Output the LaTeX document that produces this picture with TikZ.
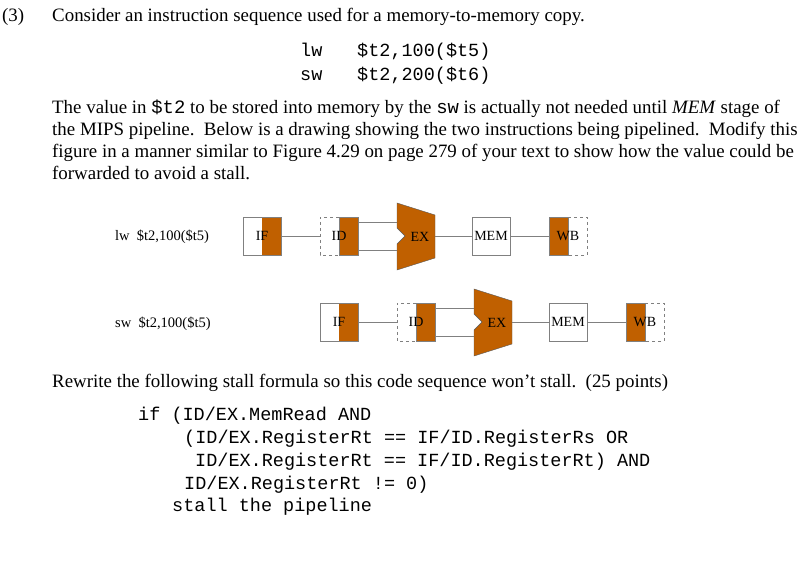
\documentclass[tikz,border=0pt]{standalone}
\usepackage{fontspec}
\setmainfont{Liberation Serif}
\setmonofont{Liberation Mono}
\usetikzlibrary{positioning}
\definecolor{rust}{RGB}{192,96,0}

\begin{document}
\begin{tikzpicture}[x=1pt,y=-1pt,
txt/.style={anchor=base west,inner sep=0,font=\fontsize{18.9}{20}\selectfont},
code/.style={anchor=base west,inner sep=0,font=\fontsize{18.5}{20}\selectfont\ttfamily},
lbl/.style={anchor=base west,inner sep=0,font=\fontsize{14.5}{16}\selectfont},
stage/.style={
    rectangle,
    draw=gray,
    minimum width=38pt,
    minimum height=38pt,
    inner sep=0,
    font=\fontsize{14}{15}\selectfont},
wire/.style={draw=gray,line width=0.8pt}
]
\useasboundingbox (0,0) rectangle (798,585);
% heading and text
\node(num) [txt] at (2,22) {(3)};
\node(q1) [txt] at (52,22) {Consider an instruction sequence used for a memory-to-memory copy.};
\node(c1a) [code] at (300,57) {lw};
\node(c1b) [code] at (357,57) {\$t2,100(\$t5)};
\node(c2a) [code] at (300,81) {sw};
\node(c2b) [code] at (357,81) {\$t2,200(\$t6)};
\node(p1) [txt] at (52,114) {The value in \texttt{\$t2} to be stored into memory by the \texttt{sw} is actually not needed until \textit{MEM} stage of};
\node(p2) [txt] at (52,136) {the MIPS pipeline.\ \ Below is a drawing showing the two instructions being pipelined.\ \ Modify this};
\node(p3) [txt] at (52,158) {figure in a manner similar to Figure 4.29 on page 279 of your text to show how the value could be};
\node(p4) [txt] at (52,180) {forwarded to avoid a stall.};
\node(lw) [lbl] at (115,241) {lw \ \$t2,100(\$t5)};
\node(sw) [lbl] at (115,327) {sw \ \$t2,100(\$t5)};
% pipelines
\foreach \r/\dx/\dy in {1/0/0,2/77/86}{
\begin{scope}[shift={(\dx,\dy)}]
\fill[rust] (262,217) rectangle (281,255);
\node(if\r) [stage] at (262,236) {IF};
\fill[rust] (339,217) rectangle (358,255);
\draw[gray,dashed] (339,217) -| (320,255) -- (339,255);
\draw[gray] (339,217) rectangle (358,255);
\node(id\r) [inner sep=0,minimum width=38pt,minimum height=38pt,font=\fontsize{14}{15}\selectfont] at (339,236) {ID};
\fill[rust,draw=gray!70!black] (397,203) -- (435,215) -- (435,258) -- (397,270) -- (397,244) -- (405,236) -- (397,228) -- cycle;
\node(ex\r) [inner sep=0,font=\fontsize{14}{15}\selectfont] at (420,237) {EX};
\coordinate(exa\r) at (397,222);
\coordinate(exb\r) at (397,250);
\coordinate(exo\r) at (435,236);
\node(mem\r) [stage] at (491,236) {MEM};
\fill[rust] (549,217) rectangle (568,255);
\draw[gray,dashed] (568,217) -| (587,255) -- (568,255);
\draw[gray] (549,217) rectangle (568,255);
\node(wb\r) [inner sep=0,minimum width=38pt,minimum height=38pt,font=\fontsize{14}{15}\selectfont] at (568,236) {WB};
\draw[wire] (if\r.east) -- (id\r.west);
\draw[wire] (id\r.east |- exa\r) -- (exa\r);
\draw[wire] (id\r.east |- exb\r) -- (exb\r);
\draw[wire] (exo\r) -- (mem\r.west);
\draw[wire] (mem\r.east) -- (wb\r.west);
\end{scope}}
% formula
\node(r1) [txt] at (52,387) {Rewrite the following stall formula so this code sequence won't stall.\ \ (25 points)};
\node(f1) [code] at (138,420) {if (ID/EX.MemRead AND};
\node(f2) [code] at (184,443) {(ID/EX.RegisterRt == IF/ID.RegisterRs OR};
\node(f3) [code] at (195,466) {ID/EX.RegisterRt == IF/ID.RegisterRt) AND};
\node(f4) [code] at (184,489) {ID/EX.RegisterRt != 0)};
\node(f5) [code] at (172,511) {stall the pipeline};
\end{tikzpicture}
\end{document}
